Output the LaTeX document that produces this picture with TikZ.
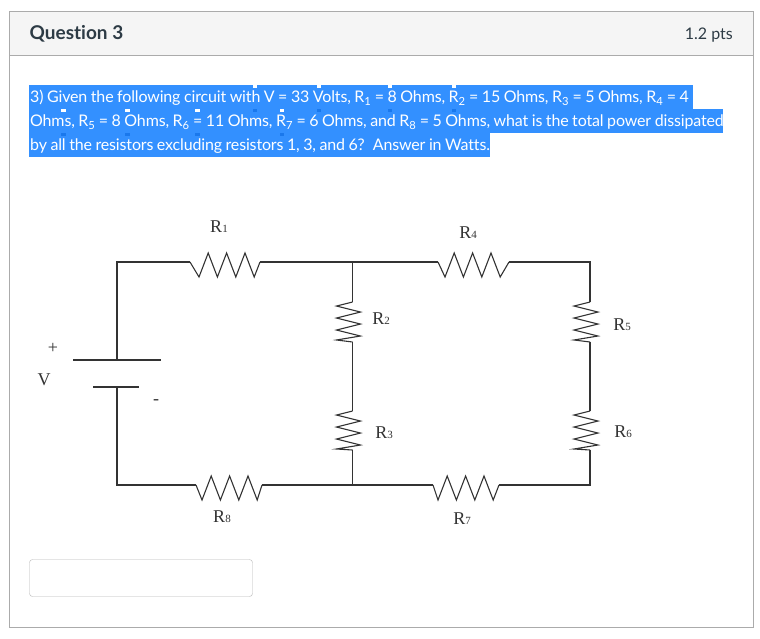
\documentclass[tikz,border=0pt]{standalone}
\usepackage{fontspec}
\setmainfont{Lato}[Ligatures=NoCommon]
\newfontfamily\selfont{Lato}[Ligatures=NoCommon,LetterSpace=-0.95]
\newfontfamily\labelfont{Liberation Serif}
\usetikzlibrary{positioning}

\definecolor{selblue}{HTML}{3390FF}
\definecolor{tickblue}{HTML}{1A78EC}
\definecolor{cardline}{HTML}{ABABAB}
\definecolor{headfill}{HTML}{F5F5F5}
\definecolor{inkgray}{HTML}{2D3B45}
\definecolor{wiregray}{HTML}{333333}

\newcommand{\Rsub}[1]{R\textsubscript{#1}}
\newcommand{\Rlab}[1]{R{\fontsize{11}{11}\selectfont #1}}
\newcommand{\selbox}[1]{\noindent\spaceskip=3.5pt\relax\mbox{#1}}

% zigzags, from one named end to the other
\newcommand{\reshor}[3]{\draw[wire] (#1) -- ++(#3,15) -- ++(9.2,-24) -- ++(9.2,24) -- ++(9.2,-24) -- ++(9.2,24) -- ++(9.2,-24) -- ++(9.2,24) -- (#2);}
\newcommand{\resver}[2]{\draw[wire] (#1) -- ++(-16,4) -- ++(24,6) -- ++(-24,6) -- ++(24,6) -- ++(-24,6) -- ++(24,6) -- ++(-24,4) -- (#2);}

\begin{document}
\begin{tikzpicture}
	[x=1pt,y=-1pt,
		wire/.style={draw=wiregray,line width=1.1pt,line join=miter},
		selline/.style={anchor=north west,fill=selblue,text=white,inner xsep=1pt,inner ysep=0pt,minimum height=24pt,text height=16.5pt,text depth=5.5pt,font=\selfont\fontsize{16}{24}\selectfont},
		clabel/.style={text=wiregray,inner sep=0pt,font=\labelfont\fontsize{18}{18}\selectfont}]

	\useasboundingbox (0,0) rectangle (760,638);

	% card and header
	\fill[white] (0,0) rectangle (760,638);
	\draw[cardline,fill=white] (9.5,11.5) rectangle (753.5,627.5);
	\draw[cardline,fill=headfill] (9.5,11.5) rectangle (753.5,55.5);
	\node[anchor=base west,inner sep=0pt,text=inkgray,font=\fontsize{19}{19}\selectfont\bfseries] (title) at (29.5,39) {Question 3};
	\node[anchor=base east,inner sep=0pt,text=inkgray,font=\fontsize{16}{16}\selectfont] (points) at (733,39) {1.2 pts};

	% selected question text
	\node[selline,text width=662pt] (lineone) at (29,85) {\selbox{3) Given the following circuit with V = 33 Volts, \Rsub{1} = 8 Ohms, \Rsub{2} = 15 Ohms, \Rsub{3} = 5 Ohms, \Rsub{4} = 4}};
	\node[selline,text width=692pt] (linetwo) at (29,109) {\selbox{Ohms, \Rsub{5} = 8 Ohms, \Rsub{6} = 11 Ohms, \Rsub{7} = 6 Ohms, and \Rsub{8} = 5 Ohms, what is the total power dissipated}};
	\node[selline,text width=459pt] (linethree) at (29,133) {\selbox{by all the resistors excluding resistors 1, 3, and 6? Answer in Watts.}};
	\foreach \x in {252.5,316.5,387.5,451.5} {
		\fill[white] (\x,85) rectangle ++(4.5,3);
		\fill[tickblue] (\x,109) rectangle ++(4.5,2.5);
	}
	\foreach \x in {61,125,195,279.5} {
		\fill[white] (\x,109) rectangle ++(4.5,3);
		\fill[tickblue] (\x,133) rectangle ++(4.5,2.5);
	}

	% circuit points
	\coordinate (topleft) at (117,262);
	\coordinate (topmid) at (352.5,262);
	\coordinate (topright) at (590,262);
	\coordinate (botleft) at (117,485);
	\coordinate (botmid) at (352.5,485);
	\coordinate (botright) at (590,485);
	\coordinate (platepos) at (117,360);
	\coordinate (plateneg) at (117,387);
	\coordinate (posl) at (73,360);
	\coordinate (posr) at (161,360);
	\coordinate (negl) at (93,387);
	\coordinate (negr) at (139,387);
	\coordinate (r1a) at (190,262);
	\coordinate (r1b) at (260,262);
	\coordinate (r4a) at (438,262);
	\coordinate (r4b) at (509,262);
	\coordinate (r8a) at (196,485);
	\coordinate (r8b) at (262,485);
	\coordinate (r7a) at (433,485);
	\coordinate (r7b) at (499,485);
	\coordinate (r2a) at (352.5,302);
	\coordinate (r2b) at (352.5,342);
	\coordinate (r3a) at (352.5,411);
	\coordinate (r3b) at (352.5,450);
	\coordinate (r5a) at (590,302);
	\coordinate (r5b) at (590,342);
	\coordinate (r6a) at (590,411);
	\coordinate (r6b) at (590,450);

	% wires
	\draw[wire] (platepos) -- (topleft) -- (r1a);
	\draw[wire] (r1b) -- (topmid) -- (r4a);
	\draw[wire] (r4b) -- (topright) -- (r5a);
	\draw[wire] (r5b) -- (r6a);
	\draw[wire] (r6b) -- (botright) -- (r7b);
	\draw[wire] (r7a) -- (botmid) -- (r8b);
	\draw[wire] (r8a) -- (botleft) -- (plateneg);
	\draw[wire] (topmid) -- (r2a);
	\draw[wire] (r2b) -- (r3a);
	\draw[wire] (r3b) -- (botmid);
	\draw[wire] (posl) -- (posr);
	\draw[wire] (negl) -- (negr);

	% resistors
	\reshor{r1a}{r1b}{9}
	\reshor{r4a}{r4b}{7}
	\reshor{r8a}{r8b}{6}
	\reshor{r7a}{r7b}{5}
	\resver{r2a}{r2b}
	\resver{r3a}{r3b}
	\resver{r5a}{r5b}
	\resver{r6a}{r6b}

	% labels
	\node[clabel] (labone) at (219,227) {\Rlab{1}};
	\node[clabel] (labfour) at (468,233) {\Rlab{4}};
	\node[clabel] (labtwo) at (381,319) {\Rlab{2}};
	\node[clabel] (labthree) at (384,433) {\Rlab{3}};
	\node[clabel] (labfive) at (622,325) {\Rlab{5}};
	\node[clabel] (labsix) at (623,432) {\Rlab{6}};
	\node[clabel] (labseven) at (462,519) {\Rlab{7}};
	\node[clabel] (labeight) at (222,517) {\Rlab{8}};
	\node[clabel] (labv) at (44,380) {V};
	\node[clabel] (labplus) at (53,348) {+};
	\node[clabel] (labminus) at (156,402) {-};

	% answer box
	\draw[draw=cardline!85,fill=white,rounded corners=3pt] (29.5,559.5) rectangle (252.5,596.5);
\end{tikzpicture}
\end{document}
